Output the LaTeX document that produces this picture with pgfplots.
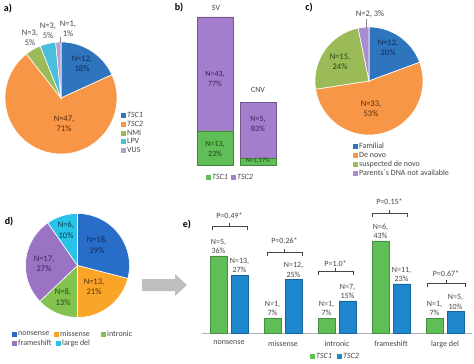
\documentclass[border=0pt]{standalone}
\usepackage{fontspec}
\setmainfont{Carlito}
\usepackage{pgfplots}
\pgfplotsset{compat=1.18}

\definecolor{cBlue}{RGB}{46,117,190}
\definecolor{cOrange}{RGB}{247,150,70}
\definecolor{cGreenA}{RGB}{155,187,89}
\definecolor{cCyan}{RGB}{75,190,220}
\definecolor{cPurpA}{RGB}{180,160,210}
\definecolor{cPurpC}{RGB}{170,140,210}
\definecolor{dBlue}{RGB}{40,110,200}
\definecolor{dOrange}{RGB}{250,165,40}
\definecolor{dGreen}{RGB}{130,195,80}
\definecolor{dPurp}{RGB}{155,115,195}
\definecolor{dCyan}{RGB}{40,195,230}
\definecolor{barGreen}{RGB}{95,190,85}
\definecolor{barBlue}{RGB}{30,135,205}
\definecolor{barPurp}{RGB}{165,125,205}
\definecolor{tNavy}{RGB}{20,40,90}
\definecolor{tBrown}{RGB}{90,45,10}
\definecolor{tGreen}{RGB}{35,70,20}
\definecolor{tPurp}{RGB}{60,30,90}
\definecolor{tTeal}{RGB}{10,60,80}
\definecolor{tGray}{RGB}{70,70,70}

\newcommand\lf{\fontsize{8}{9.5}\selectfont}
\newcommand\pf{\fontsize{8.5}{10.5}\selectfont}
\newcommand\pl{\fontsize{10}{12}\selectfont\bfseries}

% pie: center x, center y, radius, list count/colour (clockwise from top)
\newcommand\drawpie[4]{%
  \gdef\pietot{0}%
  \foreach \n/\pc in {#4}{\pgfmathparse{\pietot+\n}\xdef\pietot{\pgfmathresult}}%
  \gdef\pieang{90}%
  \foreach \n/\pc in {#4}{%
    \pgfmathparse{\pieang-360*(\n/\pietot)}\let\pieend\pgfmathresult
    \edef\pietmp{\noexpand\fill[\pc,draw=white,line width=0.6pt] (axis cs:#1,#2) -- ++(\pieang:#3pt) arc[start angle=\pieang,end angle=\pieend,radius=#3pt] -- cycle;}%
    \pietmp
    \xdef\pieang{\pieend}%
  }%
}
\newcommand\legitem[4]{%
  \fill[#3] (axis cs:#1-2.5,#2-2.5) rectangle (axis cs:#1+2.5,#2+2.5);
  \node[anchor=west,inner sep=0pt,font=\lf,text=tGray] at (axis cs:#1+4,#2) {#4};
}
\newcommand\pbr[5]{% x1 x2 y text ty
  \draw[tGray,line width=0.6pt] (axis cs:#1,#3+4) -- (axis cs:#1,#3) -- (axis cs:#2,#3) -- (axis cs:#2,#3+4);
  \draw[tGray,line width=0.6pt] (axis cs:{(#1+#2)/2},#3) -- (axis cs:{(#1+#2)/2},#3-3);
  \node[font=\lf,text=tGray,inner sep=0pt] at (axis cs:{(#1+#2)/2},#5) {#4};
}

\begin{document}
\begin{tikzpicture}
\useasboundingbox (0,0) rectangle (474pt,364pt);

% ---------- b) stacked bars
\begin{axis}[at={(193.5pt,199pt)},anchor=south west,x=43pt,y=1.48pt,
  xmin=-0.5,xmax=1.5,ymin=0,ymax=100,ybar stacked,bar width=36pt,
  hide axis,clip=false]
\addplot[fill=barGreen,draw=barGreen!70!black,line width=0.5pt] coordinates {(0,23) (1,4.5)};
\addplot[fill=barPurp,draw=barPurp!70!black,line width=0.5pt] coordinates {(0,77) (1,38)};
\end{axis}

% ---------- e) grouped bars
\begin{axis}[at={(202pt,31pt)},anchor=south west,x=54pt,y=2.14pt,
  xmin=-0.5,xmax=4.5,ymin=0,ymax=65,ybar=4pt,bar width=17pt,
  axis x line*=bottom,axis y line=none,
  x axis line style={-,draw=black!30,line width=0.8pt},
  xtick={0,1,2,3,4},xticklabels={nonsense,missense,intronic,frameshift,large del},
  xtick style={draw=none},ytick=\empty,
  xticklabel style={font=\lf,text=tGray},
  clip=false,
  nodes near coords,point meta=explicit symbolic,
  every node near coord/.append style={font=\lf,text=tGray,align=center,inner sep=2pt}]
\addplot[fill=barGreen,draw=barGreen!75!black,line width=0.4pt] coordinates {
  (0,36) [N=5,\\36\%] (1,7) [N=1,\\7\%] (2,7) [N=1,\\7\%] (3,43) [N=6,\\43\%] (4,7) [N=1,\\7\%]};
\addplot[fill=barBlue,draw=barBlue!75!black,line width=0.4pt] coordinates {
  (0,27) [N=13,\\27\%] (1,25) [N=12,\\25\%] (2,15) [N=7,\\15\%] (3,23) [N=11,\\23\%] (4,10) [N=5,\\10\%]};
\end{axis}

% ---------- canvas axis: pies, texts, legends
\begin{axis}[at={(0pt,0pt)},anchor=south west,x=1pt,y=1pt,
  xmin=0,xmax=474,ymin=0,ymax=364,y dir=reverse,hide axis,clip=false]

% arrow
\addplot[fill=black!25,draw=none] coordinates {(142,279) (175,279) (175,274) (187,285) (175,296) (175,291) (142,291) (142,279)};

% panel labels
\node[font=\pl] at (axis cs:8,9) {a)};
\node[font=\pl] at (axis cs:179,8) {b)};
\node[font=\pl] at (axis cs:309,8) {c)};
\node[font=\pl] at (axis cs:9,222) {d)};
\node[font=\pl] at (axis cs:187,225) {e)};

% a) pie
\drawpie{61}{98}{56}{12/cBlue,47/cOrange,3/cGreenA,3/cCyan,1/cPurpA}
\node[font=\pf,text=tNavy,align=center] at (axis cs:82,64) {N=12,\\18\%};
\node[font=\pf,text=tBrown,align=center] at (axis cs:64,124) {N=47,\\71\%};
\node[font=\pf,text=tGray,align=center] at (axis cs:30,38) {N=3,\\5\%};
\node[font=\pf,text=tGray,align=center] at (axis cs:48,31) {N=3,\\5\%};
\node[font=\pf,text=tGray,align=center] at (axis cs:68,29) {N=1,\\1\%};
\draw[black!45,line width=0.5pt] (axis cs:60,37) -- (axis cs:60,43);
\legitem{123}{115}{cBlue}{\textit{TSC1}}
\legitem{123}{124}{cOrange}{\textit{TSC2}}
\legitem{123}{133}{cGreenA}{NMI}
\legitem{123}{141}{cCyan}{LPV}
\legitem{123}{150}{cPurpA}{VUS}

% b) texts
\node[font=\lf,text=tGray] at (axis cs:216,8) {SV};
\node[font=\lf,text=tGray] at (axis cs:258,90) {CNV};
\node[font=\lf,text=tPurp,align=center] at (axis cs:215,79) {N=43,\\77\%};
\node[font=\lf,text=tGreen,align=center] at (axis cs:215,149) {N=13,\\23\%};
\node[font=\lf,text=tPurp,align=center] at (axis cs:258,124) {N=5,\\83\%};
\node[font=\fontsize{6.5}{7}\selectfont,text=tGreen,inner sep=0pt] at (axis cs:258,161) {N=1,17\%};
\legitem{208}{177}{barGreen}{\textit{TSC1}}
\legitem{233}{177}{barPurp}{\textit{TSC2}}

% c) pie
\drawpie{369}{81}{54}{12/cBlue,33/cOrange,15/cGreenA,2/cPurpC}
\node[font=\pf,text=tNavy,align=center] at (axis cs:388,48) {N=12,\\20\%};
\node[font=\pf,text=tGreen,align=center] at (axis cs:340,62) {N=15,\\24\%};
\node[font=\pf,text=tBrown,align=center] at (axis cs:371,109) {N=33,\\53\%};
\node[font=\pf,text=tGray] at (axis cs:370,14) {N=2, 3\%};
\draw[black!45,line width=0.5pt] (axis cs:366,19) -- (axis cs:366,28);
\legitem{355}{146}{cBlue}{Familial}
\legitem{355}{155}{cOrange}{De novo}
\legitem{355}{164}{cGreenA}{suspected de novo}
\legitem{355}{173}{cPurpC}{Parents´s DNA not available}

% d) pie
\drawpie{77.5}{265.5}{52}{18/dBlue,13/dOrange,8/dGreen,17/dPurp,6/dCyan}
\node[font=\pf,text=tNavy,align=center] at (axis cs:97,245) {N=18,\\29\%};
\node[font=\pf,text=tBrown,align=center] at (axis cs:94,287) {N=13,\\21\%};
\node[font=\pf,text=tGreen,align=center] at (axis cs:63,297) {N=8,\\13\%};
\node[font=\pf,text=tPurp,align=center] at (axis cs:44,264) {N=17,\\27\%};
\node[font=\pf,text=tTeal,align=center] at (axis cs:66,230) {N=6,\\10\%};
\legitem{14}{334}{dBlue}{nonsense}
\legitem{56}{334}{dOrange}{missense}
\legitem{103}{334}{dGreen}{intronic}
\legitem{14}{343}{dPurp}{frameshift}
\legitem{58}{343}{dCyan}{large del}

% e) brackets and legend
\pbr{212}{247}{226}{P=0.49*}{216}
\pbr{267}{302}{252}{P=0.26*}{241}
\pbr{318}{353}{271}{P=1.0*}{264}
\pbr{372}{407}{213}{P=0.15*}{202}
\pbr{427}{465}{283}{P=0.67*}{274}
\legitem{312}{356}{barGreen}{\textit{TSC1}}
\legitem{339}{356}{barBlue}{\textit{TSC2}}
\end{axis}
\end{tikzpicture}
\end{document}
